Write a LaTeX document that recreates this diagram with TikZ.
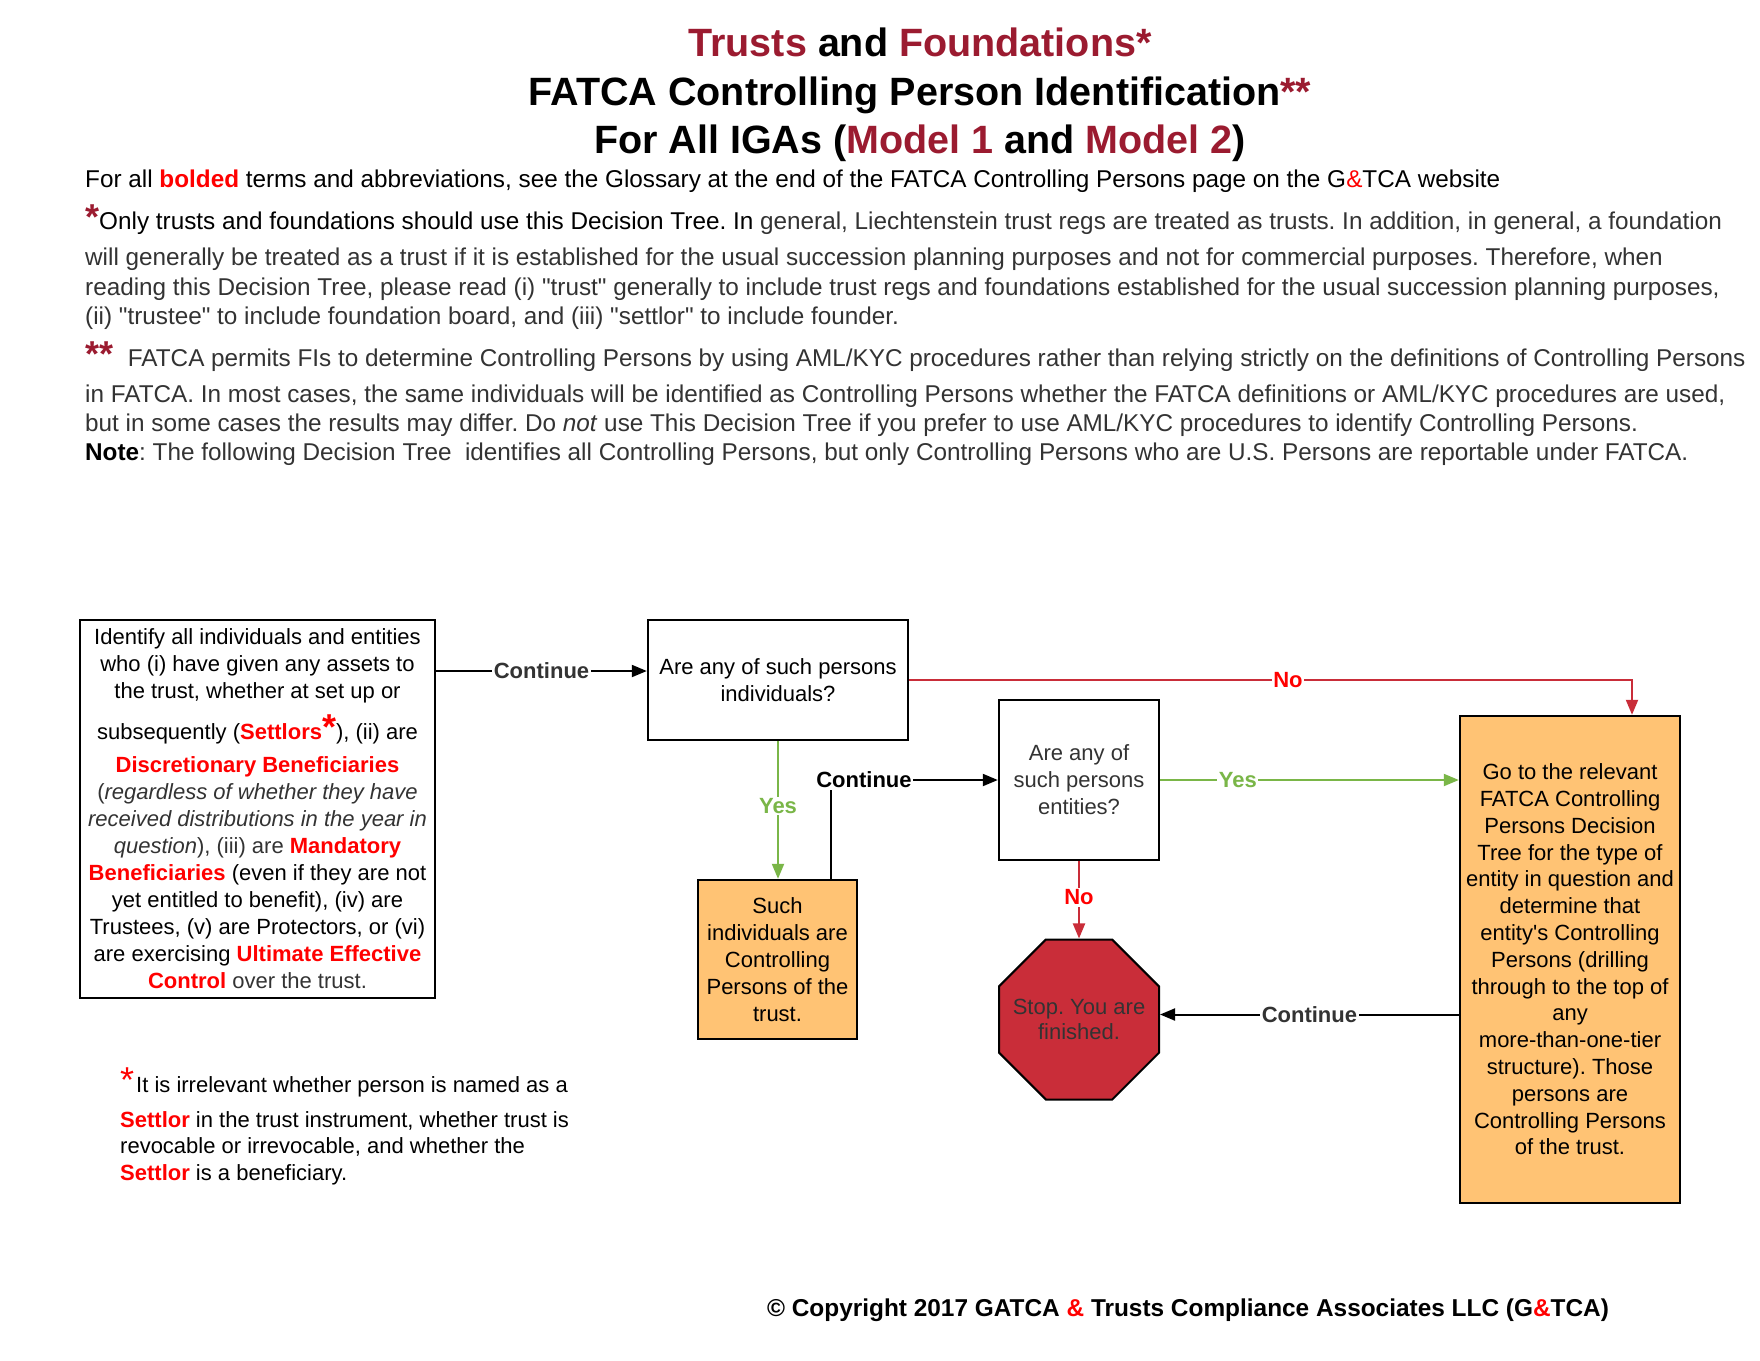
\documentclass[tikz,border=0pt]{standalone}
\usepackage{fontspec}
\setmainfont{Liberation Sans}[Ligatures=TeXOff]
\frenchspacing
\usetikzlibrary{arrows.meta,shapes.geometric,calc}
\definecolor{dred}{HTML}{9B1B30}
\definecolor{bred}{HTML}{FF0000}
\definecolor{lred}{HTML}{C92D39}
\definecolor{lgreen}{HTML}{7AB648}
\definecolor{orng}{HTML}{FFC374}
\definecolor{gry}{HTML}{333333}
\newcommand{\bigast}[1]{\smash{\fontsize{36}{36}\selectfont\color{#1}*}}
\newcommand{\bigbast}[1]{\smash{\fontsize{36}{36}\selectfont\bfseries\color{#1}*}}
\begin{document}
\begin{tikzpicture}[x=1pt,y=-1pt,
  box/.style={draw=black, line width=2.4pt, inner sep=0pt, align=center, font=\fontsize{22}{27}\selectfont},
  hdr/.style={anchor=base west, inner sep=0pt, font=\fontsize{24.3}{27}\selectfont, text=gry},
  foot/.style={anchor=base west, inner sep=0pt, font=\fontsize{22}{27}\selectfont, text=black},
  ttl/.style={anchor=base, inner sep=0pt, font=\fontsize{39.5}{45}\selectfont\bfseries},
  conn/.style={line width=2pt, -{Triangle[length=15pt,width=12pt]}},
  lbl/.style={fill=white, inner sep=1.5pt, font=\fontsize{22}{24}\selectfont\bfseries}]
\useasboundingbox (0,0) rectangle (1760,1360);
\fill[white] (0,0) rectangle (1760,1360);

% Title
\node[ttl] (t1) at (920,56.5) {{\color{dred}Trusts} and {\color{dred}Foundations*}};
\node[ttl] (t2) at (920,105) {FATCA Controlling Person Identification{\color{dred}**}};
\node[ttl] (t3) at (920,153) {For All IGAs ({\color{dred}Model 1} and {\color{dred}Model 2})};

% Header paragraphs
\node[hdr, text=black] (h1) at (85,187.6) {For all {\color{bred}\bfseries bolded} terms and abbreviations, see the Glossary at the end of the FATCA Controlling Persons page on the G{\color{bred}\&}TCA website};
\node[hdr, text=black] (h2) at (85,229) {\bigbast{dred}Only trusts and foundations should use this Decision Tree. In {\color{gry}general, Liechtenstein trust regs are treated as trusts. In addition, in general, a foundation}};
\node[hdr] (h3) at (85,265) {will generally be treated as a trust if it is established for the usual succession planning purposes and not for commercial purposes. Therefore, when};
\node[hdr] (h4) at (85,295.3) {reading this Decision Tree, please read (i) "trust" generally to include trust regs and foundations established for the usual succession planning purposes,};
\node[hdr] (h5) at (85,324.5) {(ii) "trustee" to include foundation board, and (iii) "settlor" to include founder.};
\node[hdr] (h6) at (85,366) {\bigbast{dred}\bigbast{dred}\hspace{8pt} FATCA permits FIs to determine Controlling Persons by using AML/KYC procedures rather than relying strictly on the definitions of Controlling Persons};
\node[hdr] (h7) at (85,402) {in FATCA. In most cases, the same individuals will be identified as Controlling Persons whether the FATCA definitions or AML/KYC procedures are used,};
\node[hdr] (h8) at (85,431) {but in some cases the results may differ. Do \textit{not} use This Decision Tree if you prefer to use AML/KYC procedures to identify Controlling Persons.};
\node[hdr] (h9) at (85,460.3) {{\color{black}\bfseries Note}: The following Decision Tree\ \ identifies all Controlling Persons, but only Controlling Persons who are U.S. Persons are reportable under FATCA.};

% Boxes
\node[box, minimum width=355pt, minimum height=378pt] (left) at (257.5,809) {%
Identify all individuals and entities\\
who (i) have given any assets to\\
the trust, whether at set up or\\[14pt]
subsequently ({\color{bred}\bfseries Settlors}\bigbast{bred}), (ii) are\\[6pt]
{\color{bred}\bfseries Discretionary Beneficiaries}\\
{\color{gry}(\textit{regardless of whether they have}}\\
{\color{gry}\textit{received distributions in the year in}}\\
{\color{gry}\textit{question}), (iii) are} {\color{bred}\bfseries Mandatory}\\
{\color{bred}\bfseries Beneficiaries} (even if they are not\\
yet entitled to benefit), (iv) are\\
Trustees, (v) are Protectors, or (vi)\\
are exercising {\color{bred}\bfseries Ultimate Effective}\\
{\color{bred}\bfseries Control} {\color{gry}over the trust.}};

\node[box, minimum width=260pt, minimum height=120pt] (q1) at (778,680) {Are any of such persons\\individuals?};
\node[box, text=gry, minimum width=160pt, minimum height=160pt] (q2) at (1079,780) {Are any of\\such persons\\entities?};
\node[box, fill=orng, minimum width=159pt, minimum height=159pt] (such) at (777.5,959.5) {Such\\individuals are\\Controlling\\Persons of the\\trust.};
\node[regular polygon, regular polygon sides=8, minimum size=173.2pt, draw=black, fill=lred, line width=2pt, inner sep=0pt,
  label={[align=center, text=gry, font=\fontsize{22}{25.5}\selectfont]center:Stop. You are\\finished.}] (stop) at (1079,1019.5) {};
\node[box, fill=orng, minimum width=220pt, minimum height=487pt, font=\fontsize{22}{26.8}\selectfont] (right) at (1570,959.5) {%
Go to the relevant\\FATCA Controlling\\Persons Decision\\Tree for the type of\\entity in question and\\determine that\\entity's Controlling\\Persons (drilling\\through to the top of\\any\\more-than-one-tier\\structure). Those\\persons are\\Controlling Persons\\of the trust.};

% Connectors
\draw[conn] ([yshift=9pt]q1.west -| left.east) -- node[lbl, text=gry]{Continue} ([yshift=9pt]q1.west);
\draw[conn, lred] (q1.east) -| node[pos=0.262, lbl, text=bred]{No} ([xshift=62pt]right.north);
\draw[conn, lgreen] (q1.south) -- node[pos=0.47, lbl, text=lgreen]{Yes} (q1.south |- such.north);
\draw[conn] ([xshift=53pt]such.north) |- node[pos=0.6, lbl]{Continue} (q2.west);
\draw[conn, lgreen] (q2.east) -- node[pos=0.26, lbl, text=lgreen]{Yes} (q2.east -| right.west);
\draw[conn, lred] (q2.south) -- node[pos=0.47, lbl, text=bred]{No} (stop.north);
\draw[conn] ([yshift=5pt]stop.east -| right.west) -- node[lbl, text=gry]{Continue} ([yshift=5pt]stop.east);

% Footnote
\node[foot] (f1) at (120,1092) {\bigast{bred}\hspace{2pt}It is irrelevant whether person is named as a};
\node[foot] (f2) at (120,1127) {{\color{bred}\bfseries Settlor} in the trust instrument, whether trust is};
\node[foot] (f3) at (120,1153) {revocable or irrevocable, and whether the};
\node[foot] (f4) at (120,1180) {{\color{bred}\bfseries Settlor} is a beneficiary.};

% Copyright
\node[anchor=base, inner sep=0pt, font=\fontsize{24.4}{28}\selectfont\bfseries] (copy) at (1188,1316) {© Copyright 2017 GATCA {\color{bred}\&} Trusts Compliance Associates LLC (G{\color{bred}\&}TCA)};
\end{tikzpicture}
\end{document}
